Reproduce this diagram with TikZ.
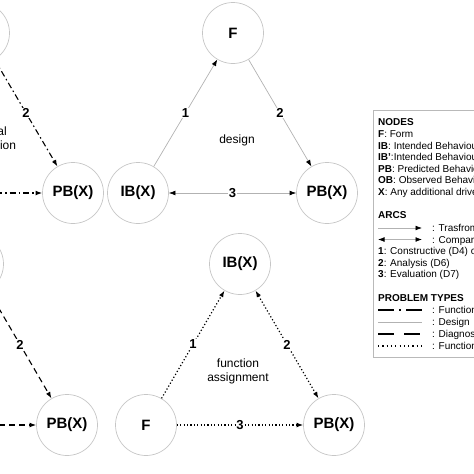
\documentclass[tikz,border=0pt]{standalone}
\usepackage{fontspec}
\setmainfont{Liberation Sans}
\usetikzlibrary{arrows.meta}

\tikzset{
  state/.style={circle,draw=gray!45,line width=0.7pt,minimum size=61pt,inner sep=0pt,
    font=\fontsize{15}{18}\selectfont\bfseries},
  num/.style={fill=white,inner sep=0.8pt,font=\fontsize{13}{15}\selectfont\bfseries},
  tag/.style={align=center,font=\fontsize{12}{14}\selectfont},
  dsgn/.style={draw=gray!60,line width=0.7pt},
  fint/.style={line width=1.1pt,dash pattern=on 6pt off 3pt on 1.5pt off 3pt},
  diag/.style={line width=1.1pt,dash pattern=on 6pt off 4pt},
  fass/.style={line width=1.2pt,dash pattern=on 1.2pt off 2.2pt},
  lgtext/.style={anchor=base west,inner sep=0pt,font=\fontsize{10}{11.5}\selectfont},
  lghead/.style={lgtext,font=\fontsize{10}{11.5}\selectfont\bfseries},
}

\begin{document}
\begin{tikzpicture}[x=1pt,y=-1pt,>={Latex[color=black,length=6.5pt,width=4.8pt]}]
  \useasboundingbox (0,0) rectangle (474,474);
  \clip (0,0) rectangle (474,474);
  % left triangles, cut by the frame
  \node[state] (T0) at (-21,33) {};
  \node[state] (PB0) at (73,193) {PB(X)};
  \coordinate (L0) at (-85,193);
  \node[tag] (txt0) at (-19,139.5) {functional\\interpretation};
  \draw[fint,->] (T0) -- node[num]{2} (PB0);
  \draw[fint,->] (L0) -- (PB0);
  \node[state] (T3) at (-27,264) {};
  \node[state] (PB3) at (67,425) {PB(X)};
  \coordinate (L3) at (-91,425);
  \draw[diag,->] (T3) -- node[num]{2} (PB3);
  \draw[diag,->] (L3) -- (PB3);
  % design
  \node[state] (IB1) at (138,193) {IB(X)};
  \node[state] (F1) at (233,33) {F};
  \node[state] (PB1) at (327,193) {PB(X)};
  \node[tag] (txt1) at (237,140) {design};
  \draw[dsgn,->] (IB1) -- node[num]{1} (F1);
  \draw[dsgn,->] (F1) -- node[num]{2} (PB1);
  \draw[dsgn,<->] (IB1) -- node[num]{3} (PB1);
  % function assignment
  \node[state] (IB2) at (240,264) {IB(X)};
  \node[state] (F2) at (146,425) {F};
  \node[state] (PB2) at (334,425) {PB(X)};
  \node[tag] (txt2) at (238,371) {function\\assignment};
  \draw[fass,->] (F2) -- node[num]{1} (IB2);
  \draw[fass,<->] (IB2) -- node[num]{2} (PB2);
  \draw[fass,->] (F2) -- node[num]{3} (PB2);
  % legend
  \draw[gray!55,line width=0.6pt] (373,110) rectangle (530,357);
  \node[lghead] (hN) at (378,125.5) {NODES};
  \foreach \k/\txt [count=\i] in {F/: Form,IB/: Intended Behaviour,IB'/:Intended Behaviour,
      PB/: Predicted Behaviour,OB/: Observed Behaviour,X/: Any additional driver}
    \node[lgtext] (nd\i) at (378,{137.5+11.5*(\i-1)}) {\textbf{\k}\txt};
  \node[lghead] (hA) at (378,218.5) {ARCS};
  \coordinate (a1) at (378,228); \coordinate (b1) at (422,228);
  \coordinate (a2) at (378,239.5); \coordinate (b2) at (422,239.5);
  \draw[dsgn,->] (a1) -- (b1);
  \draw[dsgn,<->] (a2) -- (b2);
  \node[lgtext] (ar1) at (432,231.5) {: Trasfromation};
  \node[lgtext] (ar2) at (432,243) {: Comparison};
  \foreach \k/\txt [count=\i] in {1/: Constructive (D4) or Reconstructive (D5),
      2/: Analysis (D6),3/: Evaluation (D7)}
    \node[lgtext] (ac\i) at (378,{254.5+11.5*(\i-1)}) {\textbf{\k}\txt};
  \node[lghead] (hP) at (378,301) {PROBLEM TYPES};
  \foreach \i in {1,...,4}{
    \coordinate (p\i) at (378,{310+12*(\i-1)});
    \coordinate (q\i) at (422,{310+12*(\i-1)});
  }
  \draw[line width=1.4pt,dash pattern=on 16pt off 5pt on 2pt off 5pt] (p1) -- (q1);
  \draw[dsgn] (p2) -- (q2);
  \draw[line width=1.4pt,dash pattern=on 16pt off 10pt] (p3) -- (q3);
  \draw[line width=1.2pt,dash pattern=on 1.2pt off 3.1pt] (p4) -- (q4);
  \foreach \txt [count=\i] in {Functional interpretation,Design,Diagnosis,Function assignment}
    \node[lgtext] (pt\i) at (432,{313.5+12*(\i-1)}) {: \txt};
\end{tikzpicture}
\end{document}
